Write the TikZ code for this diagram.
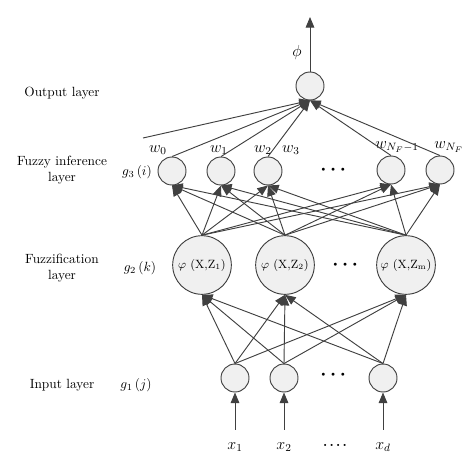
\documentclass[tikz,border=0pt]{standalone}
\usepackage{amsmath}
\usepackage{tikz}
\usetikzlibrary{positioning, arrows.meta}

\begin{document}
\begin{tikzpicture}[x=0.75pt,y=-0.75pt,>={Triangle[length=8pt,width=6.5pt]},
    neuron/.style={circle,draw=black!75,fill=gray!12,line width=0.7pt,minimum size=21pt,inner sep=0pt},
    bigneuron/.style={neuron,minimum size=44pt,font=\small},
    link/.style={->,black!75,line width=0.7pt},
    weight/.style={font=\large},
    layer/.style={align=center}]
        \useasboundingbox (0,0) rectangle (474,471);
        % layer names
        \node[layer](lout) at (62,93) {Output layer};
        \node[layer](lfi) at (62,170) {Fuzzy inference\\layer};
        \node[layer](lfz) at (62,268) {Fuzzification\\layer};
        \node[layer](lin) at (62,385) {Input layer};
        \node(g3) at (137,172) {$g_3\,(i)$};
        \node(g2) at (140,268) {$g_2\,(k)$};
        \node(g1) at (136,385) {$g_1\,(j)$};
        % output
        \node[neuron](out) at (310,86) {};
        \coordinate (phiend) at (310,17);
        \node[weight](phi) at (297,52) {$\phi$};
        \coordinate (wfree) at (143,138);
        % fuzzy inference layer
        \node[neuron](w0) at (172,171) {};
        \node[neuron](w1) at (221,171) {};
        \node[neuron](w2) at (268,171) {};
        \node[neuron](wn1) at (391,170) {};
        \node[neuron](wn) at (440,170) {};
        \node(dotsw) at (335,170) {\Large$\boldsymbol{\cdots}$};
        \node[weight](lw0) at (158,150) {$w_0$};
        \node[weight](lw1) at (219,150) {$w_1$};
        \node[weight](lw2) at (263,150) {$w_2$};
        \node[weight](lw3) at (291,150) {$w_3$};
        \node[weight](lwn1) at (397,147) {$w_{N_F-1}$};
        \node[weight](lwn) at (449,147) {$w_{N_F}$};
        % fuzzification layer
        \node[bigneuron](z1) at (202,265) {$\varphi$ (X,Z$_1$)};
        \node[bigneuron](z2) at (285,265) {$\varphi$ (X,Z$_2$)};
        \node[bigneuron](zm) at (406,265) {$\varphi$ (X,Z$_\mathrm{m}$)};
        \node(dotsz) at (347,265) {\Large$\boldsymbol{\cdots}$};
        % input layer
        \node[neuron](x1) at (235,378) {};
        \node[neuron](x2) at (284,378) {};
        \node[neuron](xd) at (383,378) {};
        \node(dotsx) at (335,375) {\Large$\boldsymbol{\cdots}$};
        \node[weight](lx1) at (235,447) {$x_1$};
        \node[weight](lx2) at (284,447) {$x_2$};
        \node[weight](lxd) at (383,447) {$x_d$};
        \node(dotsl) at (335,445) {\textbf{.\,.\,.\,.}};

        \path[link]	(out.north)	edge	(phiend)
        		(wfree)	edge	(out.south)
        		(w0.north)	edge	(out.south)
        		(w1.north)	edge	(out.south)
        		(w2.north)	edge	(out.south)
        		(wn1.north)	edge	(out.south)
        		(wn.north)	edge	(out.south);
        \path[link]	(z1.north)	edge (w0.south) edge (w1.south) edge (w2.south) edge (wn1.south) edge (wn.south)
        		(z2.north)	edge (w0.south) edge (w1.south) edge (w2.south) edge (wn1.south) edge (wn.south)
        		(zm.north)	edge (w0.south) edge (w1.south) edge (w2.south) edge (wn1.south) edge (wn.south);
        \path[link]	(x1.north)	edge (z1.south) edge (z2.south) edge (zm.south)
        		(x2.north)	edge (z1.south) edge (z2.south) edge (zm.south)
        		(xd.north)	edge (z1.south) edge (z2.south) edge (zm.south);
        \path[link,shorten <=6pt]	(lx1.north)	edge	(x1.south)
        		(lx2.north)	edge	(x2.south)
        		(lxd.north)	edge	(xd.south);
    \end{tikzpicture}
\end{document}
